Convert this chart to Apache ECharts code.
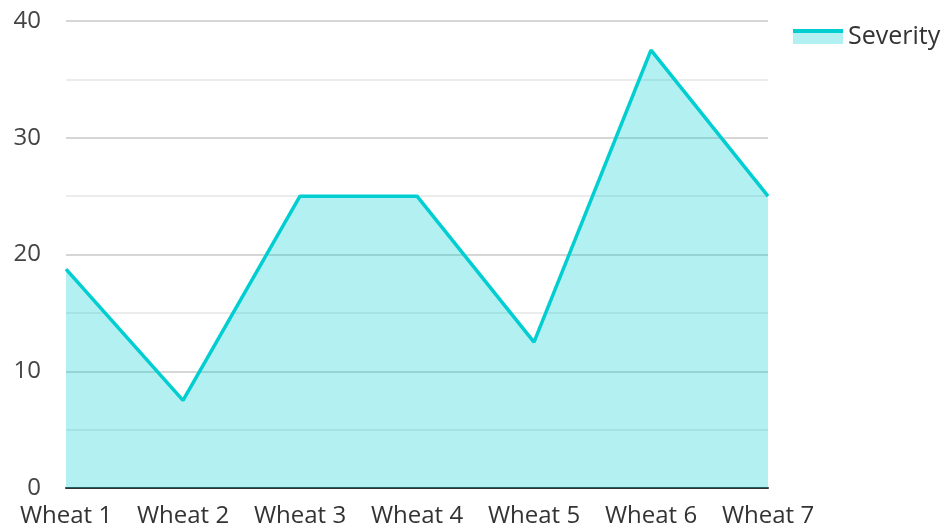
<!DOCTYPE html>
<html><head><meta charset="utf-8">
<script src="https://cdn.jsdelivr.net/npm/echarts@6/dist/echarts.min.js"></script>
<style>html,body{margin:0;padding:0;background:#fff}#c{width:947px;height:529px}</style>
</head><body><div id="c"></div>
<script>
const categories = ['Wheat 1','Wheat 2','Wheat 3','Wheat 4','Wheat 5','Wheat 6','Wheat 7'];
const severity = [18.75, 7.5, 25, 25, 12.5, 37.5, 25];
const seriesName = 'Severity';
const yTicks = [0, 10, 20, 30, 40];

const lineColor = '#00CED1';
const svgIcon = '<svg xmlns="http://www.w3.org/2000/svg" width="50" height="15"><rect x="0" y="0" width="50" height="15" fill="#b2f0f1"/><rect x="0" y="0" width="50" height="4" fill="#00CED1"/></svg>';
const chart = echarts.init(document.getElementById('c'));
chart.setOption({
  animation: false,
  textStyle: {fontFamily: 'Open Sans'},
  grid: {left: 66, right: 179, top: 21, bottom: 41},
  legend: {
    data: [{name: seriesName, icon: 'image://data:image/svg+xml;charset=utf-8,' + encodeURIComponent(svgIcon)}],
    left: 788, top: 19, itemWidth: 50, itemHeight: 15, itemGap: 8,
    textStyle: {fontSize: 25, color: '#333', fontFamily: 'Open Sans'}
  },
  xAxis: {
    type: 'category', data: categories, boundaryGap: false,
    axisLine: {lineStyle: {color: '#333', width: 2}},
    axisTick: {show: false},
    axisLabel: {fontSize: 24, color: '#333', margin: 16, interval: 0}
  },
  yAxis: {
    type: 'value', min: yTicks[0], max: yTicks[yTicks.length-1], interval: 10,
    axisLabel: {fontSize: 24, color: '#444', margin: 25},
    splitLine: {lineStyle: {color: '#c8c8c8', width: 1.5}},
    minorTick: {show: false, splitNumber: 2},
    minorSplitLine: {show: true, lineStyle: {color: '#e6e6e6', width: 1.5}}
  },
  series: [{
    name: seriesName, type: 'line', data: severity,
    symbol: 'none', z: 3,
    lineStyle: {color: lineColor, width: 3.5},
    itemStyle: {color: lineColor},
    areaStyle: {color: lineColor, opacity: 0.3}
  }]
});
</script></body></html>
